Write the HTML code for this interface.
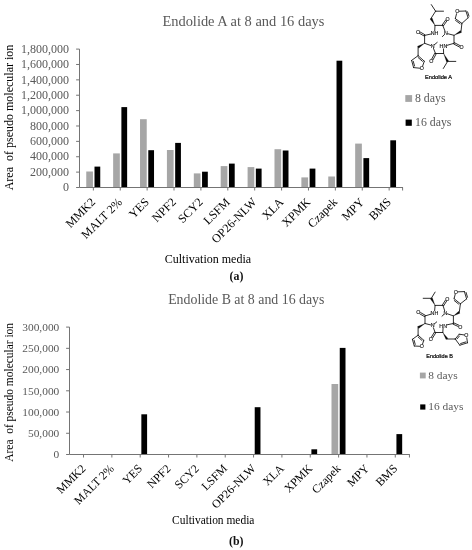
<!DOCTYPE html>
<html><head><meta charset="utf-8"><title>Endolide A and B at 8 and 16 days</title>
<style>
html,body{margin:0;padding:0;background:#fff;}
svg{display:block;font-family:"Liberation Serif",serif;}
</style></head><body>
<svg width="472" height="550" viewBox="0 0 472 550">
<rect width="472" height="550" fill="#fff"/>
<rect x="86.25" y="171.50" width="6.7" height="16.00" fill="#a6a6a6"/>
<rect x="94.50" y="166.60" width="5.75" height="20.90" fill="#000"/>
<rect x="113.14" y="153.40" width="6.7" height="34.10" fill="#a6a6a6"/>
<rect x="121.39" y="107.10" width="5.75" height="80.40" fill="#000"/>
<rect x="140.03" y="119.20" width="6.7" height="68.30" fill="#a6a6a6"/>
<rect x="148.28" y="150.20" width="5.75" height="37.30" fill="#000"/>
<rect x="166.92" y="150.00" width="6.7" height="37.50" fill="#a6a6a6"/>
<rect x="175.17" y="142.90" width="5.75" height="44.60" fill="#000"/>
<rect x="193.81" y="173.40" width="6.7" height="14.10" fill="#a6a6a6"/>
<rect x="202.06" y="171.70" width="5.75" height="15.80" fill="#000"/>
<rect x="220.70" y="166.10" width="6.7" height="21.40" fill="#a6a6a6"/>
<rect x="228.95" y="163.60" width="5.75" height="23.90" fill="#000"/>
<rect x="247.60" y="167.10" width="6.7" height="20.40" fill="#a6a6a6"/>
<rect x="255.85" y="168.60" width="5.75" height="18.90" fill="#000"/>
<rect x="274.49" y="149.20" width="6.7" height="38.30" fill="#a6a6a6"/>
<rect x="282.74" y="150.50" width="5.75" height="37.00" fill="#000"/>
<rect x="301.38" y="177.40" width="6.7" height="10.10" fill="#a6a6a6"/>
<rect x="309.63" y="168.60" width="5.75" height="18.90" fill="#000"/>
<rect x="328.27" y="176.50" width="6.7" height="11.00" fill="#a6a6a6"/>
<rect x="336.52" y="60.70" width="5.75" height="126.80" fill="#000"/>
<rect x="355.16" y="143.60" width="6.7" height="43.90" fill="#a6a6a6"/>
<rect x="363.41" y="158.10" width="5.75" height="29.40" fill="#000"/>
<rect x="390.30" y="140.30" width="5.75" height="47.20" fill="#000"/>
<path d="M79.50 49.10V187.50H403.00" fill="none" stroke="#747474" stroke-width="1.0"/>
<text x="69.00" y="191.20" text-anchor="end" font-size="12" fill="#595959">0</text>
<text x="69.00" y="175.82" text-anchor="end" font-size="12" fill="#595959">200,000</text>
<text x="69.00" y="160.44" text-anchor="end" font-size="12" fill="#595959">400,000</text>
<text x="69.00" y="145.07" text-anchor="end" font-size="12" fill="#595959">600,000</text>
<text x="69.00" y="129.69" text-anchor="end" font-size="12" fill="#595959">800,000</text>
<text x="69.00" y="114.31" text-anchor="end" font-size="12" fill="#595959">1,000,000</text>
<text x="69.00" y="98.93" text-anchor="end" font-size="12" fill="#595959">1,200,000</text>
<text x="69.00" y="83.56" text-anchor="end" font-size="12" fill="#595959">1,400,000</text>
<text x="69.00" y="68.18" text-anchor="end" font-size="12" fill="#595959">1,600,000</text>
<text x="69.00" y="52.80" text-anchor="end" font-size="12" fill="#595959">1,800,000</text>
<path d="M76.10 187.50H79.50M76.10 172.12H79.50M76.10 156.74H79.50M76.10 141.37H79.50M76.10 125.99H79.50M76.10 110.61H79.50M76.10 95.23H79.50M76.10 79.86H79.50M76.10 64.48H79.50M76.10 49.10H79.50M93.35 187.50v3M120.24 187.50v3M147.13 187.50v3M174.02 187.50v3M200.91 187.50v3M227.80 187.50v3M254.70 187.50v3M281.59 187.50v3M308.48 187.50v3M335.37 187.50v3M362.26 187.50v3M389.15 187.50v3M402.60 187.50v3" fill="none" stroke="#747474" stroke-width="1.0"/>
<text transform="translate(96.05 202.80) rotate(-45)" text-anchor="end" font-size="12.1" fill="#000">MMK2</text>
<text transform="translate(122.94 202.80) rotate(-45)" text-anchor="end" font-size="12.1" fill="#000">MALT 2%</text>
<text transform="translate(149.83 202.80) rotate(-45)" text-anchor="end" font-size="12.1" fill="#000">YES</text>
<text transform="translate(176.72 202.80) rotate(-45)" text-anchor="end" font-size="12.1" fill="#000">NPF2</text>
<text transform="translate(203.61 202.80) rotate(-45)" text-anchor="end" font-size="12.1" fill="#000">SCY2</text>
<text transform="translate(230.50 202.80) rotate(-45)" text-anchor="end" font-size="12.1" fill="#000">LSFM</text>
<text transform="translate(257.40 202.80) rotate(-45)" text-anchor="end" font-size="12.1" fill="#000">OP26-NLW</text>
<text transform="translate(284.29 202.80) rotate(-45)" text-anchor="end" font-size="12.1" fill="#000">XLA</text>
<text transform="translate(311.18 202.80) rotate(-45)" text-anchor="end" font-size="12.1" fill="#000">XPMK</text>
<text transform="translate(338.07 202.80) rotate(-45)" text-anchor="end" font-size="12.1" fill="#000">Czapek</text>
<text transform="translate(364.96 202.80) rotate(-45)" text-anchor="end" font-size="12.1" fill="#000">MPY</text>
<text transform="translate(391.85 202.80) rotate(-45)" text-anchor="end" font-size="12.1" fill="#000">BMS</text>
<text x="243.4" y="25.5" text-anchor="middle" font-size="14.45" fill="#595959">Endolide A at 8 and 16 days</text>
<text transform="translate(13.0 117.5) rotate(-90)" text-anchor="middle" font-size="12" fill="#000" style="white-space:pre">Area  of pseudo molecular ion</text>
<text x="207.9" y="263.2" text-anchor="middle" font-size="12" fill="#000">Cultivation media</text>
<text x="236.5" y="279.5" text-anchor="middle" font-size="11.9" font-weight="bold" fill="#111">(a)</text>
<rect x="405.3" y="95.10" width="6.8" height="6.8" fill="#a6a6a6"/>
<text x="415.0" y="102.2" font-size="11.8" fill="#595959">8 days</text>
<rect x="405.6" y="119.60" width="6.2" height="6.2" fill="#000"/>
<text x="415.0" y="126.3" font-size="11.8" fill="#595959">16 days</text>
<rect x="141.35" y="414.30" width="5.75" height="40.20" fill="#000"/>
<rect x="254.72" y="407.20" width="5.75" height="47.30" fill="#000"/>
<rect x="311.40" y="449.30" width="5.75" height="5.20" fill="#000"/>
<rect x="331.50" y="384.00" width="6.7" height="70.50" fill="#a6a6a6"/>
<rect x="339.75" y="347.90" width="5.75" height="106.60" fill="#000"/>
<rect x="396.43" y="434.10" width="5.75" height="20.40" fill="#000"/>
<path d="M69.50 327.10V454.50H409.85" fill="none" stroke="#747474" stroke-width="1.0"/>
<text x="59.30" y="458.30" text-anchor="end" font-size="11.4" fill="#595959">0</text>
<text x="59.30" y="437.07" text-anchor="end" font-size="11.4" fill="#595959">50,000</text>
<text x="59.30" y="415.83" text-anchor="end" font-size="11.4" fill="#595959">100,000</text>
<text x="59.30" y="394.60" text-anchor="end" font-size="11.4" fill="#595959">150,000</text>
<text x="59.30" y="373.37" text-anchor="end" font-size="11.4" fill="#595959">200,000</text>
<text x="59.30" y="352.13" text-anchor="end" font-size="11.4" fill="#595959">250,000</text>
<text x="59.30" y="330.90" text-anchor="end" font-size="11.4" fill="#595959">300,000</text>
<path d="M66.10 454.50H69.50M66.10 433.27H69.50M66.10 412.03H69.50M66.10 390.80H69.50M66.10 369.57H69.50M66.10 348.33H69.50M66.10 327.10H69.50M83.52 454.50v3M111.86 454.50v3M140.20 454.50v3M168.55 454.50v3M196.89 454.50v3M225.23 454.50v3M253.57 454.50v3M281.91 454.50v3M310.25 454.50v3M338.60 454.50v3M366.94 454.50v3M395.28 454.50v3M409.45 454.50v3" fill="none" stroke="#747474" stroke-width="1.0"/>
<text transform="translate(86.32 469.20) rotate(-45)" text-anchor="end" font-size="11.8" fill="#000">MMK2</text>
<text transform="translate(114.66 469.20) rotate(-45)" text-anchor="end" font-size="11.8" fill="#000">MALT 2%</text>
<text transform="translate(143.00 469.20) rotate(-45)" text-anchor="end" font-size="11.8" fill="#000">YES</text>
<text transform="translate(171.35 469.20) rotate(-45)" text-anchor="end" font-size="11.8" fill="#000">NPF2</text>
<text transform="translate(199.69 469.20) rotate(-45)" text-anchor="end" font-size="11.8" fill="#000">SCY2</text>
<text transform="translate(228.03 469.20) rotate(-45)" text-anchor="end" font-size="11.8" fill="#000">LSFM</text>
<text transform="translate(256.37 469.20) rotate(-45)" text-anchor="end" font-size="11.8" fill="#000">OP26-NLW</text>
<text transform="translate(284.71 469.20) rotate(-45)" text-anchor="end" font-size="11.8" fill="#000">XLA</text>
<text transform="translate(313.05 469.20) rotate(-45)" text-anchor="end" font-size="11.8" fill="#000">XPMK</text>
<text transform="translate(341.40 469.20) rotate(-45)" text-anchor="end" font-size="11.8" fill="#000">Czapek</text>
<text transform="translate(369.74 469.20) rotate(-45)" text-anchor="end" font-size="11.8" fill="#000">MPY</text>
<text transform="translate(398.08 469.20) rotate(-45)" text-anchor="end" font-size="11.8" fill="#000">BMS</text>
<text x="246.3" y="304.2" text-anchor="middle" font-size="13.86" fill="#595959">Endolide B at 8 and 16 days</text>
<text transform="translate(13.0 392.35) rotate(-90)" text-anchor="middle" font-size="11.45" fill="#000" style="white-space:pre">Area  of pseudo molecular ion</text>
<text x="213.25" y="523.6" text-anchor="middle" font-size="11.45" fill="#000">Cultivation media</text>
<text x="236.25" y="544.8" text-anchor="middle" font-size="11.9" font-weight="bold" fill="#111">(b)</text>
<rect x="419.9" y="372.60" width="5.8" height="5.8" fill="#a6a6a6"/>
<text x="428.3" y="379.1" font-size="11.4" fill="#595959">8 days</text>
<rect x="420.2" y="404.40" width="5.2" height="5.2" fill="#000"/>
<text x="428.3" y="410.2" font-size="11.4" fill="#595959">16 days</text>
<g font-family="'Liberation Sans',sans-serif" fill="#0a0a0a"><path d="M435.00 25.40L432.00 17.83L430.00 18.97Z" fill="#0a0a0a" stroke="#0a0a0a" stroke-width="0.2"/><path d="M424.60 43.30L417.51 46.21L418.69 48.19Z" fill="#0a0a0a" stroke="#0a0a0a" stroke-width="0.2"/><path d="M443.60 53.50L446.57 61.92L448.63 60.88Z" fill="#0a0a0a" stroke="#0a0a0a" stroke-width="0.2"/><path d="M454.00 35.30L461.55 32.51L460.45 30.49Z" fill="#0a0a0a" stroke="#0a0a0a" stroke-width="0.2"/><path d="M431.30 4.60L435.60 11.20M435.60 11.20L443.50 11.20M435.60 11.20L431.00 18.40M435.00 25.40L442.80 25.40M443.41 25.83L446.86 20.95M442.19 24.97L445.64 20.08M442.80 25.40L444.93 30.93M444.19 34.81L442.40 36.60M435.00 25.40L434.73 30.70M430.91 34.01L424.60 35.40M424.97 34.75L420.37 32.13M424.23 36.05L419.62 33.43M424.60 35.40L424.60 43.30M424.60 43.30L430.59 45.47M434.33 44.77L437.20 42.40M418.10 47.20L418.10 55.70M418.10 55.70L411.60 60.40M411.60 60.40L413.60 67.60M413.25 61.29L414.55 65.99M413.60 67.60L419.71 68.20M422.60 66.09L424.30 61.20M424.30 61.20L418.10 55.70M422.43 61.35L418.18 57.57M433.50 48.46L435.50 53.50M434.84 53.15L431.76 58.94M436.16 53.85L433.09 59.64M435.50 53.50L443.60 53.50M443.60 53.50L443.47 48.90M447.60 61.40L443.30 68.50M447.60 61.40L455.80 61.40M446.95 45.36L454.00 43.30M453.65 43.96L459.33 46.95M454.35 42.64L460.03 45.63M454.00 43.30L454.00 35.30M454.00 35.30L447.85 33.73M461.00 31.50L461.90 23.40M461.90 23.40L455.30 18.60M460.05 23.73L455.56 20.46M455.30 18.60L456.58 13.69M459.30 11.23L465.90 11.00M465.90 11.00L468.10 17.80M467.58 11.82L468.98 16.15M468.10 17.80L461.90 23.40" fill="none" stroke="#0a0a0a" stroke-width="0.85" stroke-linecap="round"/><text x="447.60" y="20.51" text-anchor="middle" font-size="5.3" stroke="#0a0a0a" stroke-width="0.12">O</text><text x="445.80" y="35.11" text-anchor="middle" font-size="5.3" stroke="#0a0a0a" stroke-width="0.12">N</text><text x="434.60" y="35.11" text-anchor="middle" font-size="5.3" stroke="#0a0a0a" stroke-width="0.12">NH</text><text x="418.10" y="33.61" text-anchor="middle" font-size="5.3" stroke="#0a0a0a" stroke-width="0.12">O</text><text x="432.60" y="48.11" text-anchor="middle" font-size="5.3" stroke="#0a0a0a" stroke-width="0.12">N</text><text x="421.80" y="70.31" text-anchor="middle" font-size="5.3" stroke="#0a0a0a" stroke-width="0.12">O</text><text x="431.30" y="63.31" text-anchor="middle" font-size="5.3" stroke="#0a0a0a" stroke-width="0.12">O</text><text x="443.40" y="48.31" text-anchor="middle" font-size="5.3" stroke="#0a0a0a" stroke-width="0.12">HN</text><text x="461.60" y="49.21" text-anchor="middle" font-size="5.3" stroke="#0a0a0a" stroke-width="0.12">O</text><text x="457.20" y="13.21" text-anchor="middle" font-size="5.3" stroke="#0a0a0a" stroke-width="0.12">O</text><text x="438.5" y="79.1" text-anchor="middle" font-size="5.65" stroke="#0a0a0a" stroke-width="0.22">Endolide A</text></g>
<g font-family="'Liberation Sans',sans-serif" fill="#0a0a0a"><path d="M435.10 305.40L432.31 297.76L430.29 298.84Z" fill="#0a0a0a" stroke="#0a0a0a" stroke-width="0.2"/><path d="M425.00 323.50L417.52 326.51L418.68 328.49Z" fill="#0a0a0a" stroke="#0a0a0a" stroke-width="0.2"/><path d="M442.80 332.50L446.03 339.62L447.97 338.38Z" fill="#0a0a0a" stroke="#0a0a0a" stroke-width="0.2"/><path d="M453.40 315.90L459.90 313.28L458.70 311.32Z" fill="#0a0a0a" stroke="#0a0a0a" stroke-width="0.2"/><path d="M435.10 292.10L431.30 298.30M431.30 298.30L423.20 298.30M435.10 305.40L443.00 305.40M443.63 305.80L446.56 301.20M442.37 305.00L445.30 300.39M443.00 305.40L444.67 310.76M443.73 314.62L442.00 316.20M435.10 305.40L434.63 310.60M430.89 314.18L425.00 316.00M425.37 315.35L420.66 312.64M424.63 316.65L419.92 313.94M425.00 316.00L425.00 323.50M425.00 323.50L430.54 324.89M434.31 323.94L436.70 321.90M418.10 327.50L418.10 335.20M418.10 335.20L412.40 339.30M412.40 339.30L414.30 346.00M414.05 340.18L415.24 344.38M414.30 346.00L419.60 346.29M422.50 344.09L423.80 340.30M423.80 340.30L418.10 335.20M421.93 340.44L418.17 337.07M433.41 327.71L435.10 332.50M434.46 332.11L431.51 336.89M435.74 332.89L432.78 337.68M435.10 332.50L442.80 332.50M442.80 332.50L443.06 328.10M447.00 339.00L455.20 339.00M455.20 339.00L459.20 334.20M457.07 338.87L459.40 336.06M459.20 334.20L464.32 334.98M466.76 337.76L467.50 342.80M467.50 342.80L459.80 345.20M465.86 341.90L460.64 343.52M459.80 345.20L455.20 339.00M446.91 324.84L453.40 323.50M453.09 324.18L458.13 326.49M453.71 322.82L458.75 325.12M453.40 323.50L453.40 315.90M453.40 315.90L447.41 313.81M459.30 312.30L460.40 303.80M460.40 303.80L454.10 298.70M458.54 304.03L454.26 300.57M454.10 298.70L455.20 294.30M457.90 291.83L464.40 291.60M464.40 291.60L466.60 298.90M466.07 292.46L467.52 297.27M466.60 298.90L460.40 303.80" fill="none" stroke="#0a0a0a" stroke-width="0.85" stroke-linecap="round"/><text x="447.20" y="300.71" text-anchor="middle" font-size="5.3" stroke="#0a0a0a" stroke-width="0.12">O</text><text x="445.40" y="315.01" text-anchor="middle" font-size="5.3" stroke="#0a0a0a" stroke-width="0.12">N</text><text x="434.40" y="315.01" text-anchor="middle" font-size="5.3" stroke="#0a0a0a" stroke-width="0.12">NH</text><text x="418.40" y="314.11" text-anchor="middle" font-size="5.3" stroke="#0a0a0a" stroke-width="0.12">O</text><text x="432.60" y="327.31" text-anchor="middle" font-size="5.3" stroke="#0a0a0a" stroke-width="0.12">N</text><text x="421.70" y="348.31" text-anchor="middle" font-size="5.3" stroke="#0a0a0a" stroke-width="0.12">O</text><text x="430.90" y="341.21" text-anchor="middle" font-size="5.3" stroke="#0a0a0a" stroke-width="0.12">O</text><text x="443.20" y="327.51" text-anchor="middle" font-size="5.3" stroke="#0a0a0a" stroke-width="0.12">HN</text><text x="466.40" y="337.21" text-anchor="middle" font-size="5.3" stroke="#0a0a0a" stroke-width="0.12">O</text><text x="460.40" y="328.61" text-anchor="middle" font-size="5.3" stroke="#0a0a0a" stroke-width="0.12">O</text><text x="455.80" y="293.81" text-anchor="middle" font-size="5.3" stroke="#0a0a0a" stroke-width="0.12">O</text><text x="439.6" y="358.0" text-anchor="middle" font-size="5.5" stroke="#0a0a0a" stroke-width="0.22">Endolide B</text></g>
</svg>
</body></html>
